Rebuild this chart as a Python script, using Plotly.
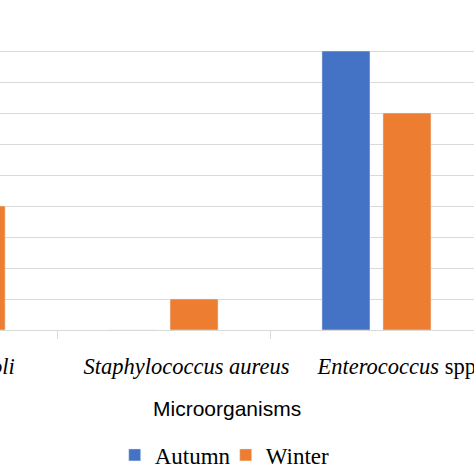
import plotly.graph_objects as go

categories = ["Escherichia coli", "Staphylococcus aureus", "Enterococcus spp."]
tick_labels = ["<i>Escherichia coli</i>", "<i>Staphylococcus aureus</i>", "<i>Enterococcus</i> spp."]
autumn = [6, 0, 9]
winter = [4, 1, 7]

BLUE = "#4472C4"
ORANGE = "#ED7D31"
GRID = "#D9D9D9"

x_range = [0.232, 2.458]

fig = go.Figure()
fig.add_trace(go.Bar(name="Autumn", x=categories, y=autumn, marker_color=BLUE))
fig.add_trace(go.Bar(name="Winter", x=categories, y=winter, marker_color=ORANGE))

# label of first category lies beyond the left edge (cropped)
fig.add_annotation(xref="paper", yref="paper", x=17 / 474, y=0, yshift=-36,
                   text=tick_labels[0], showarrow=False, yanchor="middle", xanchor="right",
                   font=dict(family="Liberation Serif", size=22.5, color="#000"))
fig.add_annotation(xref="paper", yref="paper", x=226.5 / 474, y=0, yshift=-78,
                   text="Microorganisms", showarrow=False, yanchor="middle",
                   font=dict(family="Liberation Sans", size=21, color="#000"))

fig.update_layout(
    width=474, height=474,
    margin=dict(l=0, r=0, t=20, b=144, autoexpand=False),
    paper_bgcolor="white", plot_bgcolor="white",
    barmode="group", bargap=0.427, bargroupgap=0.213,
    showlegend=True,
    legend=dict(orientation="h", x=0.242, xanchor="left", y=-0.403, yanchor="middle",
                font=dict(family="Liberation Serif", size=23, color="#000"),
                itemwidth=30, entrywidth=66, bgcolor="rgba(0,0,0,0)"),
    xaxis=dict(type="category", range=x_range, showgrid=False, showline=True,
               linecolor=GRID, linewidth=1, ticks="outside", tickson="boundaries",
               ticklen=8, tickcolor=GRID, tickvals=categories, ticktext=tick_labels,
               tickfont=dict(family="Liberation Serif", size=22.5, color="#000"),
               tickangle=0, ticklabelshift=23, ticklabelstandoff=16,
               ticklabeloverflow="allow", automargin=False),
    yaxis=dict(range=[0, 10], dtick=1, showgrid=True, gridcolor=GRID, gridwidth=1,
               zeroline=False, showticklabels=False, ticks="", automargin=False),
)

fig.write_html("out.html", config={"displayModeBar": False},
               post_script="document.body.style.margin='0px';")
